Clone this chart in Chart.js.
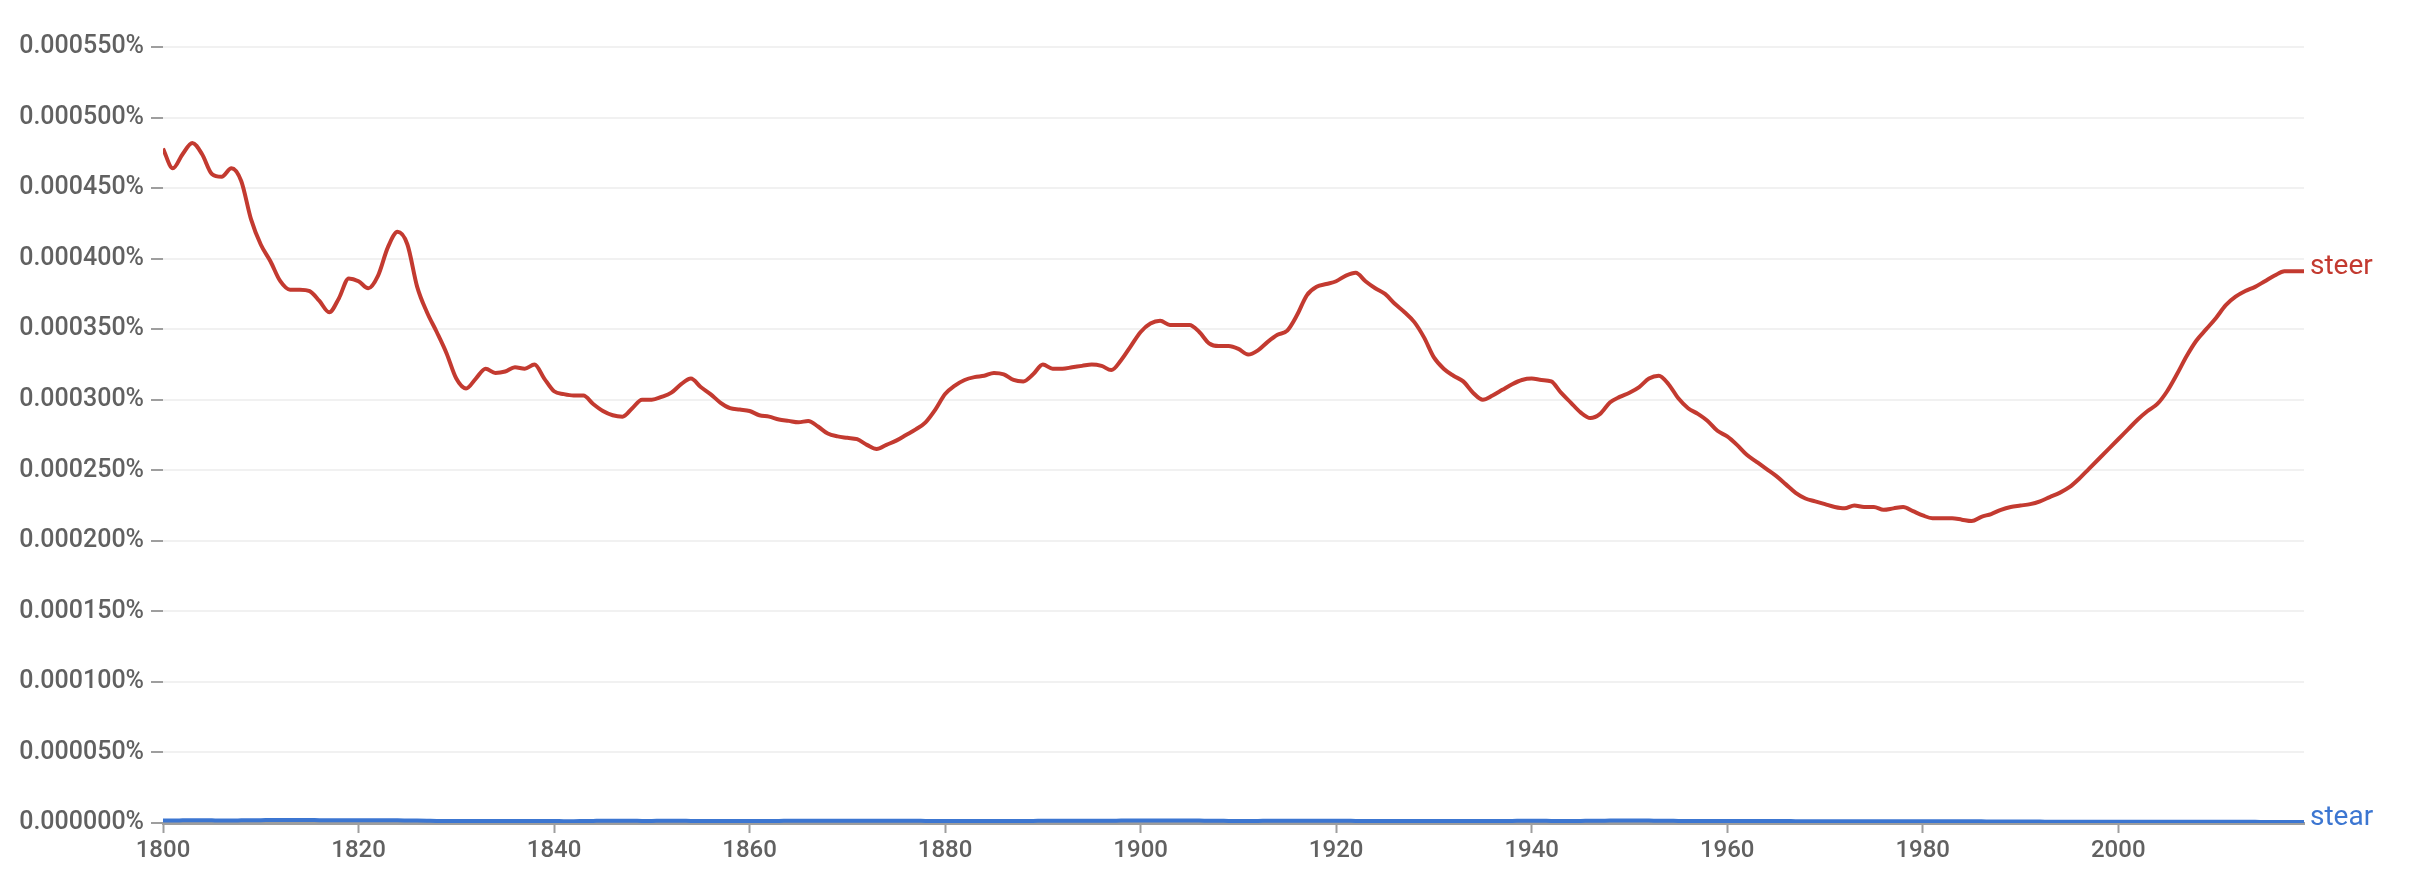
<!DOCTYPE html>
<html>
<head>
<meta charset="utf-8">
<title>steer, stear</title>
<script src="https://cdn.jsdelivr.net/npm/chart.js@4.4.0/dist/chart.umd.js"></script>
<style>
    html, body { margin: 0; padding: 0; background: #fff; }
    #wrap { width: 2436px; height: 886px; position: relative; }
</style>
</head>
<body>
<div id="wrap"><canvas id="chart"></canvas></div>
<script>
// Valeurs en millioniÃ¨mes de pourcent (1 = 0.000001%)
const startYear = 1800;
const endYear = 2019;

const steer = [
    478, 464, 474, 482, 474, 460, 458, 464, 455, 428,
    410, 398, 384, 378, 378, 377, 370, 362, 372, 386,
    384, 379, 388, 408, 419, 410, 380, 362, 348, 333,
    315, 308, 315, 322, 319, 320, 323, 322, 325, 315,
    306, 304, 303, 303, 297, 292, 289, 288, 294, 300,
    300, 302, 305, 311, 315, 309, 304, 298, 294, 293,
    292, 289, 288, 286, 285, 284, 285, 281, 276, 274,
    273, 272, 268, 265, 268, 271, 275, 279, 284, 293,
    304, 310, 314, 316, 317, 319, 318, 314, 313, 318,
    325, 322, 322, 323, 324, 325, 324, 321, 328, 338,
    348, 354, 356, 353, 353, 353, 348, 340, 338, 338,
    336, 332, 335, 341, 346, 349, 360, 374, 380, 382,
    384, 388, 390, 384, 379, 375, 368, 362, 355, 344,
    330, 322, 317, 313, 305, 300, 303, 307, 311, 314,
    315, 314, 313, 305, 298, 291, 287, 290, 298, 302,
    305, 309, 315, 317, 311, 301, 294, 290, 285, 278,
    274, 268, 261, 256, 251, 246, 240, 234, 230, 228,
    226, 224, 223, 225, 224, 224, 222, 223, 224, 221,
    218, 216, 216, 216, 215, 214, 217, 219, 222, 224,
    225, 226, 228, 231, 234, 238, 244, 251, 258, 265,
    272, 279, 286, 292, 297, 306, 318, 331, 342, 350,
    358, 367, 373, 377, 380, 384, 388, 391, 391, 391
];

const stear = [
    1.8, 1.8, 1.9, 2.0, 2.0, 1.9, 1.8, 1.8, 1.9, 2.0,
    2.0, 2.1, 2.1, 2.2, 2.2, 2.1, 2.0, 1.9, 1.9, 1.9,
    1.9, 1.9, 1.9, 1.9, 1.9, 1.8, 1.7, 1.6, 1.5, 1.5,
    1.4, 1.4, 1.4, 1.5, 1.5, 1.5, 1.5, 1.4, 1.4, 1.4,
    1.4, 1.3, 1.3, 1.4, 1.5, 1.6, 1.6, 1.6, 1.6, 1.5,
    1.5, 1.6, 1.6, 1.6, 1.5, 1.5, 1.5, 1.4, 1.4, 1.4,
    1.5, 1.5, 1.5, 1.5, 1.6, 1.6, 1.6, 1.6, 1.6, 1.6,
    1.6, 1.6, 1.6, 1.6, 1.6, 1.6, 1.6, 1.6, 1.5, 1.5,
    1.5, 1.4, 1.4, 1.4, 1.4, 1.4, 1.5, 1.5, 1.5, 1.5,
    1.6, 1.6, 1.6, 1.6, 1.6, 1.6, 1.6, 1.6, 1.7, 1.7,
    1.7, 1.8, 1.8, 1.8, 1.8, 1.7, 1.7, 1.6, 1.6, 1.5,
    1.5, 1.5, 1.5, 1.6, 1.6, 1.6, 1.6, 1.6, 1.6, 1.6,
    1.6, 1.6, 1.5, 1.5, 1.5, 1.5, 1.4, 1.4, 1.4, 1.4,
    1.4, 1.4, 1.5, 1.5, 1.5, 1.5, 1.5, 1.5, 1.5, 1.6,
    1.6, 1.6, 1.5, 1.5, 1.5, 1.5, 1.6, 1.6, 1.7, 1.7,
    1.7, 1.7, 1.7, 1.6, 1.6, 1.5, 1.5, 1.5, 1.4, 1.4,
    1.4, 1.4, 1.4, 1.4, 1.4, 1.4, 1.4, 1.3, 1.3, 1.3,
    1.3, 1.3, 1.3, 1.3, 1.3, 1.3, 1.3, 1.3, 1.3, 1.3,
    1.3, 1.2, 1.2, 1.2, 1.2, 1.2, 1.2, 1.1, 1.1, 1.1,
    1.0, 1.0, 1.0, 0.9, 0.9, 0.9, 0.9, 0.9, 0.9, 0.9,
    0.9, 0.9, 0.9, 0.9, 0.8, 0.8, 0.8, 0.8, 0.8, 0.8,
    0.8, 0.8, 0.8, 0.8, 0.8, 0.7, 0.7, 0.7, 0.7, 0.7
];

const seriesNames = ['steer', 'stear'];
const seriesColors = ['#c33a30', '#3c76d1'];

const years = Array.from({ length: endYear - startYear + 1 }, (_, i) => startYear + i);

const yMax = 550;
const yStep = 50;
const xStep = 20;

const toPoints = values => years.map((year, i) => ({ x: year, y: values[i] }));

// Etiquettes au bout des courbes
const endLabels = {
    id: 'endLabels',
    afterDatasetsDraw(chart) {
        const ctx = chart.ctx;
        ctx.save();
        ctx.font = '28px Roboto';
        ctx.textBaseline = 'middle';
        ctx.textAlign = 'left';
        chart.data.datasets.forEach((ds, i) => {
            const meta = chart.getDatasetMeta(i);
            const last = meta.data[meta.data.length - 1];
            if (!last) return;
            ctx.fillStyle = ds.borderColor;
            ctx.fillText(ds.label, last.x + 6, last.y - 4);
        });
        ctx.restore();
    }
};

new Chart(document.getElementById('chart'), {
    type: 'line',
    data: {
        datasets: [
            {
                label: seriesNames[0],
                data: toPoints(steer),
                borderColor: seriesColors[0],
                borderWidth: 4,
                pointRadius: 0,
                tension: 0.4,
                cubicInterpolationMode: 'monotone',
                fill: false
            },
            {
                label: seriesNames[1],
                data: toPoints(stear),
                borderColor: seriesColors[1],
                borderWidth: 4,
                pointRadius: 0,
                tension: 0.4,
                cubicInterpolationMode: 'monotone',
                fill: false
            }
        ]
    },
    options: {
        responsive: true,
        maintainAspectRatio: false,
        devicePixelRatio: 1,
        animation: false,
        layout: {
            padding: { top: 47, right: 132, bottom: 0, left: 0 }
        },
        plugins: {
            legend: { display: false },
            tooltip: { enabled: false }
        },
        scales: {
            x: {
                type: 'linear',
                min: startYear,
                max: endYear,
                afterFit(scale) { scale.height = 63; },
                ticks: {
                    stepSize: xStep,
                    includeBounds: false,
                    color: '#616161',
                    font: { family: 'Roboto', size: 24, weight: '500' },
                    padding: 4,
                    maxRotation: 0,
                    callback: v => String(v)
                },
                grid: {
                    drawOnChartArea: false,
                    drawTicks: true,
                    tickLength: 10,
                    tickColor: '#9e9e9e',
                    tickWidth: 2
                },
                border: { display: true, color: '#9e9e9e', width: 3 }
            },
            y: {
                min: 0,
                max: yMax,
                afterFit(scale) { scale.width = 163; },
                ticks: {
                    stepSize: yStep,
                    color: '#616161',
                    font: { family: 'Roboto', size: 25, weight: '500' },
                    padding: 7,
                    callback: v => (v / 1e6).toFixed(6) + '%'
                },
                grid: {
                    color: '#f1f1f1',
                    lineWidth: 2,
                    drawTicks: true,
                    tickLength: 12,
                    tickColor: '#9e9e9e',
                    tickWidth: 2
                },
                border: { display: false }
            }
        }
    },
    plugins: [endLabels]
});
</script>
</body>
</html>
